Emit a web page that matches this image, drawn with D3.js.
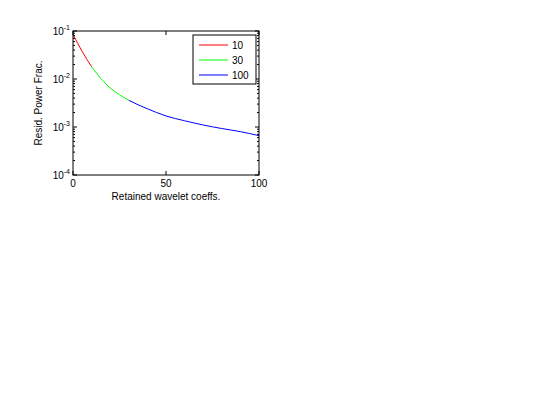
<!DOCTYPE html><html><head><script src="https://cdn.jsdelivr.net/npm/d3@7"></script>
<style>body{margin:0;background:#fff}text{font-family:Arial,"Liberation Sans",sans-serif;font-size:10px}</style></head><body>
<svg id="c" width="560" height="419"></svg>
<script>
const xs=[0,5,10,15,20,25,30,35,40,45,50,60,70,80,90,100];
const ys=[0.085,0.037,0.018,0.0102,0.0065,0.0047,0.0036,0.0029,0.0024,0.0020,0.0017,0.00135,0.0011,0.00093,0.0008,0.00066];
const series=[{name:"10",end:10,color:"#f00"},{name:"30",end:30,color:"#0f0"},{name:"100",end:100,color:"#00f"}];
const xTicks=[0,50,100];
const yTicks=[1e-4,1e-3,1e-2,1e-1];
const svg=d3.select("#c");
const L=73,R=259,T=31,B=175;
const x=d3.scaleLinear().domain([0,100]).range([L,R]);
const y=d3.scaleLog().domain([1e-4,1e-1]).range([B,T]);
const pts=xs.map((v,i)=>[v,ys[i]]);
let start=0;
const line=d3.line().x(d=>x(d[0])).y(d=>y(d[1])).curve(d3.curveMonotoneX);
series.forEach(s=>{const seg=pts.filter(p=>p[0]>=start&&p[0]<=s.end);
svg.append("path").attr("d",line(seg)).attr("fill","none").attr("stroke",s.color).attr("stroke-width",1);start=s.end;});
svg.append("rect").attr("x",L).attr("y",T).attr("width",R-L).attr("height",B-T).attr("fill","none").attr("stroke","#000");
const g=svg.append("g");
xTicks.forEach(t=>{g.append("line").attr("x1",x(t)).attr("x2",x(t)).attr("y1",B).attr("y2",B-4).attr("stroke","#000");
g.append("line").attr("x1",x(t)).attr("x2",x(t)).attr("y1",T).attr("y2",T+4).attr("stroke","#000");
g.append("text").attr("x",x(t)).attr("y",B+12).attr("text-anchor","middle").text(t);});
for(let e=-4;e<-1+1e-9;e++){for(let m=1;m<10;m++){const v=m*Math.pow(10,e);if(v>0.1+1e-12)break;const len=m===1?4:2;
g.append("line").attr("x1",L).attr("x2",L+len).attr("y1",y(v)).attr("y2",y(v)).attr("stroke","#000");
g.append("line").attr("x1",R).attr("x2",R-len).attr("y1",y(v)).attr("y2",y(v)).attr("stroke","#000");}}
yTicks.forEach(t=>{const e=Math.round(Math.log10(t));const tx=g.append("text").attr("x",L-3).attr("y",y(t)+4).attr("text-anchor","end");
tx.append("tspan").text("10");tx.append("tspan").attr("dy",-5).attr("font-size","7px").text(e);});
svg.append("text").attr("x",(L+R)/2).attr("y",B+25).attr("text-anchor","middle").text("Retained wavelet coeffs.");
svg.append("text").attr("transform",`translate(42,${(T+B)/2}) rotate(-90)`).attr("text-anchor","middle").text("Resid. Power Frac.");
const lg=svg.append("g");
lg.append("rect").attr("x",193).attr("y",35).attr("width",63).attr("height",49).attr("fill","#fff").attr("stroke","#000");
series.forEach((s,i)=>{const yy=45+i*15;lg.append("line").attr("x1",199).attr("x2",228).attr("y1",yy).attr("y2",yy).attr("stroke",s.color);
lg.append("text").attr("x",232).attr("y",yy+4).text(s.name);});
</script></body></html>
